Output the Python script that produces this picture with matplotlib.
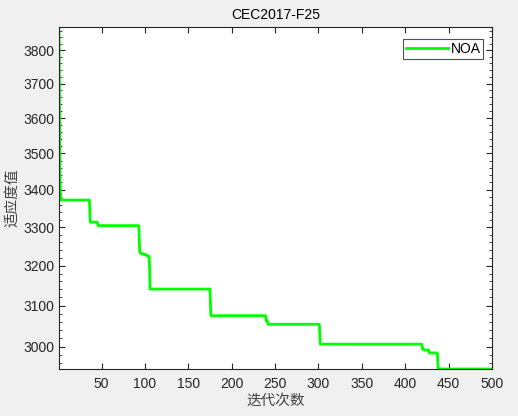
import numpy as np
import matplotlib
matplotlib.use('Agg')
import matplotlib.pyplot as plt
from matplotlib.ticker import FixedLocator, FixedFormatter, NullFormatter

plt.rcParams['font.family'] = ['Liberation Sans', 'Noto Sans CJK SC', 'DejaVu Sans']

# best-so-far fitness, as (first iteration, value) steps
step_iters = [1, 2, 3, 37, 46, 94, 95, 97, 100, 103, 106, 176, 240, 242, 302, 420, 422, 428, 438]
step_vals = [3871, 3450, 3372, 3313, 3304, 3236, 3232, 3230, 3228, 3224, 3141, 3075, 3062, 3054,
             3006, 2994, 2992, 2985, 2947]
n_iter = 500
yticks = [3000, 3100, 3200, 3300, 3400, 3500, 3600, 3700, 3800]
xticks = [50, 100, 150, 200, 250, 300, 350, 400, 450, 500]

iters = np.arange(1, n_iter + 1)
curve = np.zeros(n_iter)
for i, start in enumerate(step_iters):
    curve[start - 1:] = step_vals[i]

fig = plt.figure(figsize=(5.18, 4.16), dpi=100, facecolor='#f0f0f0')
ax = fig.add_axes([59 / 518, 1 - 369 / 416, 433 / 518, 342 / 416])

ax.semilogy(iters, curve, color='#00ff00', lw=2, label='NOA')
ax.set_xlim(1, n_iter)
ax.set_ylim(curve.min(), curve.max())

ax.yaxis.set_major_locator(FixedLocator(yticks))
ax.yaxis.set_major_formatter(FixedFormatter([str(t) for t in yticks]))
ax.yaxis.set_minor_locator(FixedLocator([v for v in range(2960, 3880, 20) if v % 100]))
ax.yaxis.set_minor_formatter(NullFormatter())
ax.set_xticks(xticks)

ax.tick_params(which='both', direction='in', top=True, right=True, labelsize=10, colors='#262626')
ax.tick_params(axis='x', pad=6)
ax.tick_params(which='major', length=4, width=0.8)
ax.tick_params(which='minor', length=2, width=0.6)
for s in ax.spines.values():
    s.set_color('#262626')
    s.set_linewidth(0.8)

ax.set_title('CEC2017-F25', fontsize=10, color='#000000', pad=6)
ax.set_xlabel('迭代次数', fontsize=10.5, family=['Noto Sans CJK SC'], color='#404040', labelpad=2)
ax.set_ylabel('适应度值', fontsize=10.5, family=['Noto Sans CJK SC'], color='#404040', labelpad=3)

leg = ax.legend(loc='upper right', fontsize=10, frameon=True, fancybox=False,
                edgecolor='#262626', handlelength=3.0, handletextpad=0.2, borderpad=0.2,
                borderaxespad=0, bbox_to_anchor=(0.98, 0.965))
leg.get_frame().set_linewidth(0.8)

fig.savefig('out.png', dpi=100, facecolor=fig.get_facecolor())
